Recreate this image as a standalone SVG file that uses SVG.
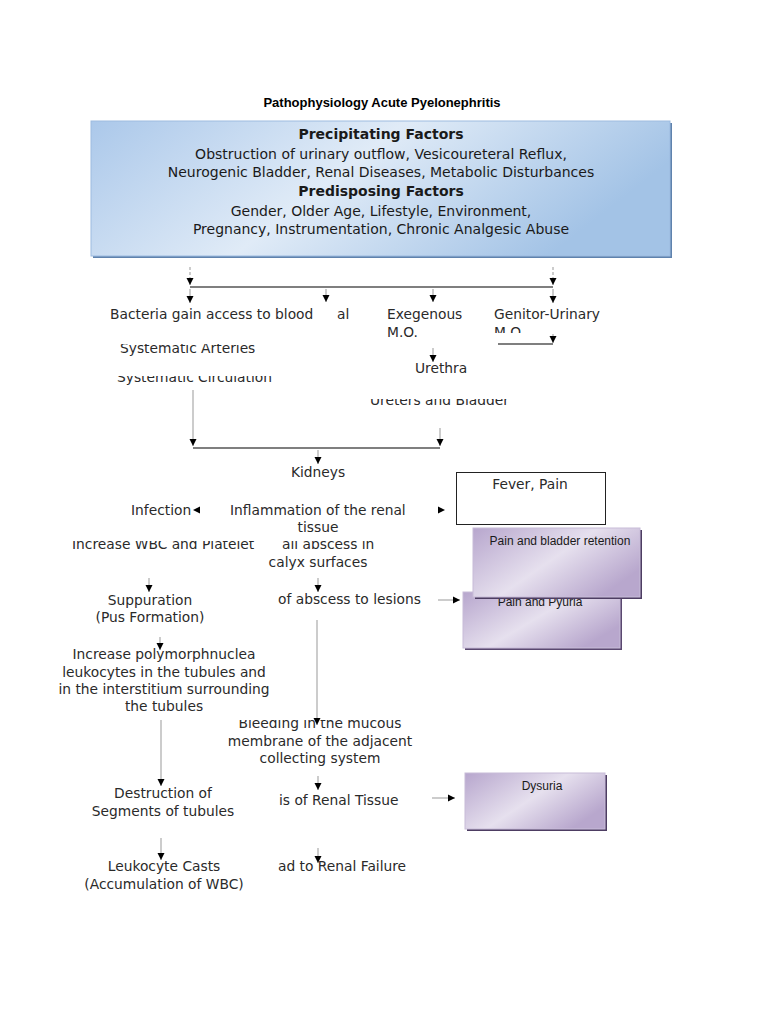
<svg xmlns="http://www.w3.org/2000/svg" width="768" height="1024" viewBox="0 0 768 1024">
<style>
.t{font-family:"DejaVu Sans",Verdana,sans-serif;font-size:13.8px;fill:#2a2a2a}
.m{text-anchor:middle}
.b{font-weight:bold}
.bx{font-family:"DejaVu Sans",Verdana,sans-serif;font-size:14px;fill:#1a1a1a;text-anchor:middle}
.pt{font-family:"Liberation Sans",Arial,sans-serif;font-size:12px;fill:#1a1a1a;text-anchor:middle}
.ln{stroke:#000;stroke-width:1.2;fill:none}
.dl{stroke:#999;stroke-width:1;fill:none}
.ah{fill:#000}
</style>
<defs>
<linearGradient id="blue" x1="0" y1="0" x2="1" y2="0.3">
<stop offset="0" stop-color="#abc8ea"/>
<stop offset="0.5" stop-color="#e0ebf7"/>
<stop offset="1" stop-color="#a3c3e6"/>
</linearGradient>
<linearGradient id="purp" x1="0" y1="0" x2="1" y2="0.6">
<stop offset="0" stop-color="#b7a6cd"/>
<stop offset="0.55" stop-color="#e6e0ee"/>
<stop offset="1" stop-color="#b8a7cd"/>
</linearGradient>
<marker id="arr" markerWidth="8" markerHeight="8" refX="7" refY="4" orient="auto" markerUnits="userSpaceOnUse">
<path d="M0,0.5 L7,4 L0,7.5 Z" fill="#000"/>
</marker>
<clipPath id="c1"><rect x="0" y="344" width="768" height="30"/></clipPath>
<clipPath id="c2"><rect x="0" y="376" width="768" height="20"/></clipPath>
<clipPath id="c3"><rect x="0" y="399" width="768" height="20"/></clipPath>
<clipPath id="c4"><rect x="0" y="541" width="768" height="20"/></clipPath>
<clipPath id="c5"><rect x="0" y="720" width="768" height="20"/></clipPath>
<clipPath id="c6"><rect x="0" y="320" width="768" height="13"/></clipPath>
</defs>
<rect width="768" height="1024" fill="#fff"/>

<text x="382" y="107" font-family="Liberation Sans,Arial,sans-serif" font-size="13" font-weight="bold" text-anchor="middle" fill="#000">Pathophysiology Acute Pyelonephritis</text>

<g id="factors">
<rect x="93" y="123" width="579" height="135" fill="#5f82ad"/>
<rect x="91" y="121" width="579" height="135" fill="url(#blue)" stroke="#9dbbe0" stroke-width="1"/>
<text class="bx b" x="381" y="139">Precipitating Factors</text>
<text class="bx" x="381" y="159">Obstruction of urinary outflow, Vesicoureteral Reflux,</text>
<text class="bx" x="381" y="177">Neurogenic Bladder, Renal Diseases, Metabolic Disturbances</text>
<text class="bx b" x="381" y="196">Predisposing Factors</text>
<text class="bx" x="381" y="216">Gender, Older Age, Lifestyle, Environment,</text>
<text class="bx" x="381" y="234">Pregnancy, Instrumentation, Chronic Analgesic Abuse</text>
</g>

<g id="connectors">
<line class="dl" x1="190" y1="267" x2="190" y2="285" marker-end="url(#arr)" stroke-dasharray="3,2"/>
<line class="dl" x1="553" y1="267" x2="553" y2="285" marker-end="url(#arr)" stroke-dasharray="3,2"/>
<line class="ln" x1="190" y1="287" x2="553" y2="287"/>
<line class="dl" x1="190" y1="289" x2="190" y2="303" marker-end="url(#arr)"/>
<line class="dl" x1="326" y1="289" x2="326" y2="302" marker-end="url(#arr)"/>
<line class="dl" x1="433" y1="289" x2="433" y2="302" marker-end="url(#arr)"/>
<line class="dl" x1="553" y1="289" x2="553" y2="303" marker-end="url(#arr)"/>
<line class="ln" x1="498" y1="344" x2="553" y2="344"/>
<line class="dl" x1="553" y1="334" x2="553" y2="343" marker-end="url(#arr)"/>
<line class="dl" x1="433" y1="348" x2="433" y2="362" marker-end="url(#arr)"/>
<line class="dl" x1="193" y1="390" x2="193" y2="446" marker-end="url(#arr)"/>
<line class="dl" x1="440" y1="428" x2="440" y2="446" marker-end="url(#arr)"/>
<line class="ln" x1="193" y1="448" x2="440" y2="448"/>
<line class="dl" x1="318" y1="450" x2="318" y2="464" marker-end="url(#arr)"/>
<path class="ah" d="M193,510 L200,506.5 L200,513.5 Z"/>
<path class="ah" d="M445,510 L438,506.5 L438,513.5 Z"/>
<line class="dl" x1="149" y1="578" x2="149" y2="592" marker-end="url(#arr)"/>
<line class="dl" x1="318" y1="578" x2="318" y2="592" marker-end="url(#arr)"/>
<line class="dl" x1="438" y1="600" x2="460" y2="600" marker-end="url(#arr)" stroke="#555"/>
<line class="dl" x1="160" y1="637" x2="160" y2="650" marker-end="url(#arr)"/>
<line class="dl" x1="317" y1="620" x2="317" y2="725" marker-end="url(#arr)"/>
<line class="dl" x1="161" y1="720" x2="161" y2="786" marker-end="url(#arr)"/>
<line class="dl" x1="318" y1="776" x2="318" y2="790" marker-end="url(#arr)"/>
<line class="dl" x1="432" y1="798" x2="455" y2="798" marker-end="url(#arr)" stroke="#555"/>
<line class="dl" x1="161" y1="838" x2="161" y2="860" marker-end="url(#arr)"/>
<line class="dl" x1="318" y1="848" x2="318" y2="863" marker-end="url(#arr)"/>
</g>

<g id="route-blood">
<text class="t" x="110" y="319">Bacteria gain access to blood</text>
<text class="t" x="337" y="319">al</text>
<text class="t" x="120" y="353" clip-path="url(#c1)">Systematic Arteries</text>
<text class="t" x="117" y="382" clip-path="url(#c2)">Systematic Circulation</text>
</g>

<g id="route-exogenous">
<text class="t" x="387" y="319">Exegenous</text>
<text class="t" x="387" y="337">M.O.</text>
<text class="t" x="415" y="373">Urethra</text>
<text class="t" x="370" y="405" clip-path="url(#c3)">Ureters and Bladder</text>
</g>

<g id="route-genito">
<text class="t" x="494" y="319">Genitor-Urinary</text>
<text class="t" x="494" y="337" clip-path="url(#c6)">M.O</text>
</g>

<g id="kidneys"><text class="t m" x="318" y="477">Kidneys</text></g>

<g id="infection"><text class="t" x="131" y="515">Infection</text></g>

<g id="inflammation">
<text class="t" x="230" y="515">Inflammation of the renal</text>
<text class="t m" x="318" y="532">tissue</text>
</g>

<g id="fever">
<rect x="456.5" y="472.5" width="149" height="52" fill="#fff" stroke="#222" stroke-width="1"/>
<text class="t m" x="530" y="489">Fever, Pain</text>
</g>

<g id="wbc"><text class="t" x="72" y="549" clip-path="url(#c4)">Increase WBC and Platelet</text></g>

<g id="abscess">
<text class="t" x="282" y="549" clip-path="url(#c4)">all abscess in</text>
<text class="t m" x="318" y="567">calyx surfaces</text>
</g>

<g id="pyuria">
<rect x="465" y="594" width="157" height="56" fill="#5a4870"/>
<rect x="463" y="592" width="157" height="56" fill="url(#purp)" stroke="#c8bcd8" stroke-width="1"/>
<text class="pt" x="540" y="606">Pain and Pyuria</text>
</g>

<g id="retention">
<rect x="475" y="530" width="167" height="69" fill="#4d3d62"/>
<rect x="473" y="528" width="167" height="69" fill="url(#purp)" stroke="#c8bcd8" stroke-width="1"/>
<text class="pt" x="560" y="545">Pain and bladder retention</text>
</g>

<g id="suppuration">
<text class="t m" x="150" y="605">Suppuration</text>
<text class="t m" x="150" y="622">(Pus Formation)</text>
</g>

<g id="lesions"><text class="t" x="278" y="604">of abscess to lesions</text></g>

<g id="polymorph">
<text class="t m" x="164" y="659">Increase polymorphnuclea</text>
<text class="t m" x="164" y="677">leukocytes in the tubules and</text>
<text class="t m" x="164" y="694">in the interstitium surrounding</text>
<text class="t m" x="164" y="711">the tubules</text>
</g>

<g id="bleeding">
<text class="t m" x="320" y="728" clip-path="url(#c5)">Bleeding in the mucous</text>
<text class="t m" x="320" y="746">membrane of the adjacent</text>
<text class="t m" x="320" y="763">collecting system</text>
</g>

<g id="destruction">
<text class="t m" x="163" y="798">Destruction of</text>
<text class="t m" x="163" y="816">Segments of tubules</text>
</g>

<g id="necrosis"><text class="t" x="279" y="805">is of Renal Tissue</text></g>

<g id="dysuria">
<rect x="467" y="775" width="140" height="56" fill="#4d3d62"/>
<rect x="465" y="773" width="140" height="56" fill="url(#purp)" stroke="#c8bcd8" stroke-width="1"/>
<text class="pt" x="542" y="790">Dysuria</text>
</g>

<g id="casts">
<text class="t m" x="164" y="871">Leukocyte Casts</text>
<text class="t m" x="164" y="889">(Accumulation of WBC)</text>
</g>

<g id="failure"><text class="t" x="278" y="871">ad to Renal Failure</text></g>
</svg>
